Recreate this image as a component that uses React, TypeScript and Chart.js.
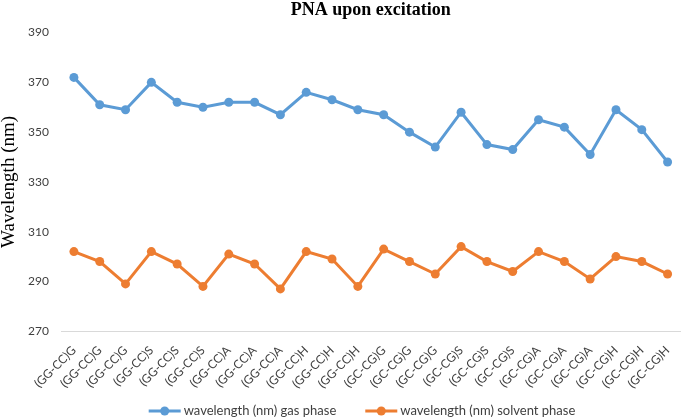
import React, { useEffect, useRef } from "react";
import { Chart, registerables } from "chart.js";

Chart.register(...registerables);

const categories = [
  "(GG-CC)G", "(GG-CC)G", "(GG-CC)G",
  "(GG-CC)S", "(GG-CC)S", "(GG-CC)S",
  "(GG-CC)A", "(GG-CC)A", "(GG-CC)A",
  "(GG-CC)H", "(GG-CC)H", "(GG-CC)H",
  "(GC-CG)G", "(GC-CG)G", "(GC-CG)G",
  "(GC-CG)S", "(GC-CG)S", "(GC-CG)S",
  "(GC-CG)A", "(GC-CG)A", "(GC-CG)A",
  "(GC-CG)H", "(GC-CG)H", "(GC-CG)H",
];

const gasPhase = [372, 361, 359, 370, 362, 360, 362, 362, 357, 366, 363, 359, 357, 350, 344, 358, 345, 343, 355, 352, 341, 359, 351, 338];
const solventPhase = [302, 298, 289, 302, 297, 288, 301, 297, 287, 302, 299, 288, 303, 298, 293, 304, 298, 294, 302, 298, 291, 300, 298, 293];

const yTicks = [270, 290, 310, 330, 350, 370, 390];

const titleText = "PNA upon excitation";
const yTitle = "Wavelength (nm)";
const seriesNames = ["wavelength (nm) gas phase", "wavelength (nm) solvent phase"];

const BLUE = "#5B9BD5";
const ORANGE = "#ED7D31";
const SANS = "Lato, 'Open Sans', sans-serif";
const SERIF = "'Liberation Serif', 'Times New Roman', serif";

const legendPlugin = {
  id: "lineLegend",
  afterDraw(chart: any) {
    const ctx = chart.ctx;
    const sets = chart.data.datasets;
    const symW = 32;
    const textGap = 3;
    const itemGap = 29;
    const centerX = 362;
    const y = 411;
    ctx.save();
    ctx.font = `13px ${SANS}`;
    const widths = sets.map((ds: any) => symW + textGap + ctx.measureText(ds.label).width);
    const total = widths.reduce((a: number, b: number) => a + b, 0) + itemGap * (sets.length - 1);
    let x = centerX - total / 2;
    sets.forEach((ds: any, i: number) => {
      ctx.strokeStyle = ds.borderColor;
      ctx.lineWidth = 3;
      ctx.beginPath();
      ctx.moveTo(x, y);
      ctx.lineTo(x + symW, y);
      ctx.stroke();
      ctx.fillStyle = ds.borderColor;
      ctx.beginPath();
      ctx.arc(x + symW / 2, y, 4.5, 0, Math.PI * 2);
      ctx.fill();
      ctx.fillStyle = "#404040";
      ctx.textAlign = "left";
      ctx.textBaseline = "middle";
      ctx.fillText(ds.label, x + symW + textGap, y);
      x += widths[i] + itemGap;
    });
    ctx.restore();
  },
};

export default function App() {
  const ref = useRef<HTMLCanvasElement | null>(null);

  useEffect(() => {
    if (!ref.current) return;
    const chart = new Chart(ref.current, {
      type: "line",
      data: {
        labels: categories,
        datasets: [
          {
            label: seriesNames[0],
            data: gasPhase,
            borderColor: BLUE,
            backgroundColor: BLUE,
            borderWidth: 3,
            pointRadius: 4.5,
            pointHoverRadius: 4.5,
            pointBorderWidth: 0,
            tension: 0,
          },
          {
            label: seriesNames[1],
            data: solventPhase,
            borderColor: ORANGE,
            backgroundColor: ORANGE,
            borderWidth: 3,
            pointRadius: 4.5,
            pointHoverRadius: 4.5,
            pointBorderWidth: 0,
            tension: 0,
          },
        ],
      },
      options: {
        animation: false,
        responsive: true,
        maintainAspectRatio: false,
        layout: { padding: { top: 0, right: 1, left: 0, bottom: 15 } },
        plugins: {
          title: {
            display: true,
            text: titleText,
            fullSize: false,
            color: "#000",
            padding: { top: 0, bottom: 11 },
            font: { family: SERIF, size: 18, weight: "bold" },
          },
          tooltip: { enabled: false },
          legend: { display: false },
        },
        scales: {
          x: {
            offset: true,
            grid: { display: false, drawTicks: false },
            border: { display: true, color: "#d9d9d9", width: 1 },
            afterFit: (scale: any) => {
              scale.paddingLeft = 0;
              scale.paddingRight = 0;
            },
            ticks: {
              autoSkip: false,
              maxRotation: 45,
              minRotation: 45,
              padding: 12,
              color: "#404040",
              font: { family: SANS, size: 12 },
            },
          },
          y: {
            min: 270,
            max: 390,
            afterBuildTicks: (axis: any) => {
              axis.ticks = yTicks.map((v) => ({ value: v }));
            },
            afterFit: (scale: any) => {
              scale.width = 61;
            },
            grid: { display: false, drawTicks: false },
            border: { display: false },
            ticks: {
              padding: 12,
              color: "#404040",
              font: { family: SANS, size: 12 },
            },
            title: {
              display: true,
              text: yTitle,
              color: "#000",
              padding: { top: 0, bottom: 0 },
              font: { family: SERIF, size: 19, lineHeight: 1 },
            },
          },
        },
      },
      plugins: [legendPlugin],
    });
    return () => chart.destroy();
  }, []);

  return (
    <div style={{ position: "fixed", left: 0, top: 0, width: 685, height: 418, background: "#fff" }}>
      <canvas ref={ref} />
    </div>
  );
}
